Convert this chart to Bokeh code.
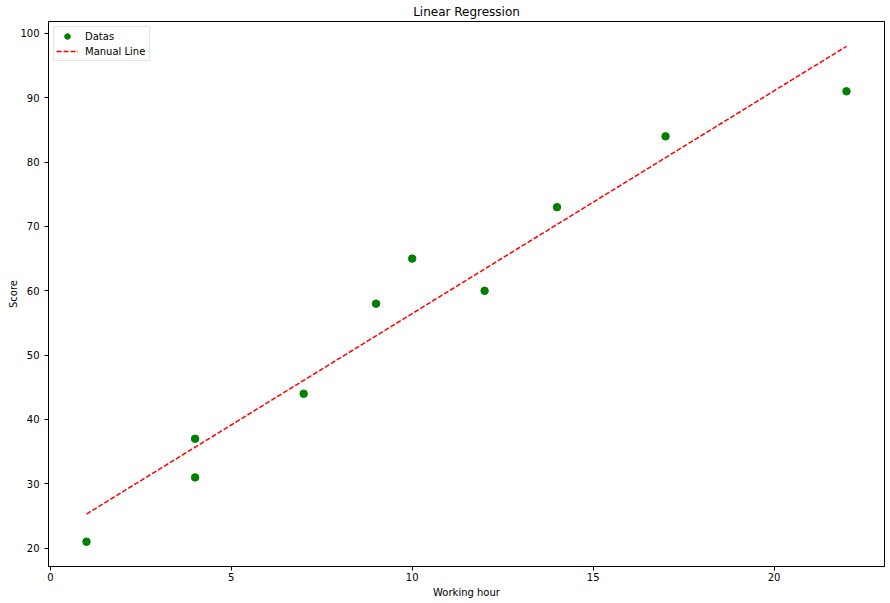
from bokeh.plotting import figure
from bokeh.models import Range1d, FixedTicker
from bokeh.embed import file_html
from bokeh.resources import INLINE

hours = [1, 4, 4, 7, 9, 10, 12, 14, 17, 22]
scores = [21, 37, 31, 44, 58, 65, 60, 73, 84, 91]
line_x = [1, 22]
line_y = [25.3, 98.0]
x_ticks = [0, 5, 10, 15, 20]
y_ticks = [20, 30, 40, 50, 60, 70, 80, 90, 100]

FONT = "DejaVu Sans"

p = figure(width=890, height=603, output_backend="svg", toolbar_location=None,
           x_range=Range1d(-0.05, 23.05), y_range=Range1d(17.15, 101.85),
           min_border_left=48, min_border_right=6, min_border_top=0, min_border_bottom=37,
           background_fill_color="white", border_fill_color="white")

p.title.text = "Linear Regression"
p.title.text_font = FONT
p.title.text_font_size = "12px"
p.title.text_font_style = "normal"
p.title.align = "center"
p.title.text_color = "black"
p.title.standoff = 5

p.scatter(hours, scores, size=7.5, color="green", legend_label="Datas")
p.line(line_x, line_y, line_color="red", line_width=1.5, line_dash="5 2", legend_label="Manual Line")

p.xgrid.visible = False
p.ygrid.visible = False
p.outline_line_color = "black"
p.outline_line_width = 1
p.outline_line_alpha = 1

for ax, ticks in ((p.xaxis, x_ticks), (p.yaxis, y_ticks)):
    ax.ticker = FixedTicker(ticks=ticks)
    ax.minor_tick_line_color = None
    ax.major_tick_in = 0
    ax.major_tick_out = 4
    ax.major_label_text_font = FONT
    ax.major_label_text_font_size = "10px"
    ax.major_label_text_color = "black"
    ax.axis_label_text_font = FONT
    ax.axis_label_text_font_size = "10px"
    ax.axis_label_text_font_style = "normal"
    ax.axis_label_text_color = "black"
    ax.axis_line_color = "black"
    ax.major_tick_line_color = "black"

p.xaxis.major_label_standoff = 2
p.xaxis.axis_label_standoff = 3
p.yaxis.major_label_standoff = 5
p.yaxis.axis_label_standoff = -2

p.xaxis.axis_label = "Working hour"
p.yaxis.axis_label = "Score"

p.legend.location = "top_left"
p.legend.margin = 5
p.legend.padding = 2
p.legend.spacing = 1
p.legend.label_standoff = 7
p.legend.label_width = 62
p.legend.label_text_font = FONT
p.legend.label_text_font_size = "10px"
p.legend.label_text_color = "black"
p.legend.label_height = 14
p.legend.glyph_height = 14
p.legend.glyph_width = 22
p.legend.border_line_color = "#cccccc"
p.legend.background_fill_alpha = 0.8

open("out.html", "w").write(file_html(p, INLINE))
